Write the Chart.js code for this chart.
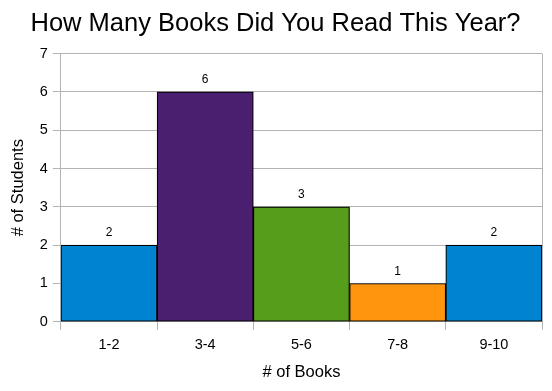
<!DOCTYPE html>
<html>
<head>
<meta charset="utf-8">
<script src="https://cdn.jsdelivr.net/npm/chart.js@4/dist/chart.umd.min.js"></script>
<style>
  html, body { margin: 0; padding: 0; background: #fff; }
  #wrap { width: 552px; height: 391px; }
</style>
</head>
<body>
<div id="wrap"><canvas id="books"></canvas></div>
<script>
const bookRanges = ['1-2', '3-4', '5-6', '7-8', '9-10'];
const studentCounts = [2, 6, 3, 1, 2];
const barColors = ['#0084d1', '#4b1f6f', '#579d1c', '#ff950e', '#0084d1'];

const gridColor = '#b3b3b3';
const font = 'Liberation Sans, Arial, sans-serif';

// values printed above each bar
const barLabels = {
  id: 'barLabels',
  afterDatasetsDraw(chart) {
    const { ctx } = chart;
    const meta = chart.getDatasetMeta(0);
    ctx.save();
    ctx.font = '12px ' + font;
    ctx.fillStyle = '#000';
    ctx.textAlign = 'center';
    ctx.textBaseline = 'bottom';
    meta.data.forEach((bar, i) => {
      ctx.fillText(studentCounts[i], bar.x, bar.y - 6);
    });
    ctx.restore();
  }
};

// right edge of the plot area
const frame = {
  id: 'frame',
  beforeDatasetsDraw(chart) {
    const { ctx, chartArea: a } = chart;
    ctx.save();
    ctx.strokeStyle = gridColor;
    ctx.lineWidth = 1;
    ctx.beginPath();
    ctx.moveTo(Math.round(a.right) + 0.5, a.top);
    ctx.lineTo(Math.round(a.right) + 0.5, a.bottom);
    ctx.stroke();
    ctx.restore();
  }
};

new Chart(document.getElementById('books'), {
  type: 'bar',
  data: {
    labels: bookRanges,
    datasets: [{
      data: studentCounts,
      backgroundColor: barColors,
      borderColor: '#000',
      borderWidth: 1.2,
      borderSkipped: false,
      categoryPercentage: 1,
      barPercentage: 1
    }]
  },
  options: {
    responsive: true,
    maintainAspectRatio: false,
    animation: false,
    layout: { padding: { left: 9, right: 10, top: 0, bottom: 9 } },
    plugins: {
      legend: { display: false },
      tooltip: { enabled: false },
      title: {
        display: true,
        text: 'How Many Books Did You Read This Year?',
        color: '#000',
        font: { family: font, size: 25.5, weight: 'normal' },
        padding: { top: 9, bottom: 14 }
      }
    },
    scales: {
      x: {
        offset: true,
        grid: {
          offset: true,
          drawOnChartArea: false,
          drawTicks: true,
          tickLength: 8,
          color: gridColor
        },
        border: { color: gridColor },
        ticks: {
          color: '#000',
          font: { family: font, size: 14.5 },
          padding: 6
        },
        title: {
          display: true,
          text: '# of Books',
          color: '#000',
          font: { family: font, size: 16.5 },
          padding: { top: 3, bottom: 0 }
        }
      },
      y: {
        min: 0,
        max: 7,
        grid: {
          color: gridColor,
          tickLength: 8
        },
        border: { color: gridColor },
        ticks: {
          stepSize: 1,
          color: '#000',
          font: { family: font, size: 14.5 },
          padding: 5
        },
        title: {
          display: true,
          text: '# of Students',
          color: '#000',
          font: { family: font, size: 16.5 },
          padding: { top: 0, bottom: 6 }
        }
      }
    }
  },
  plugins: [barLabels, frame]
});
</script>
</body>
</html>
